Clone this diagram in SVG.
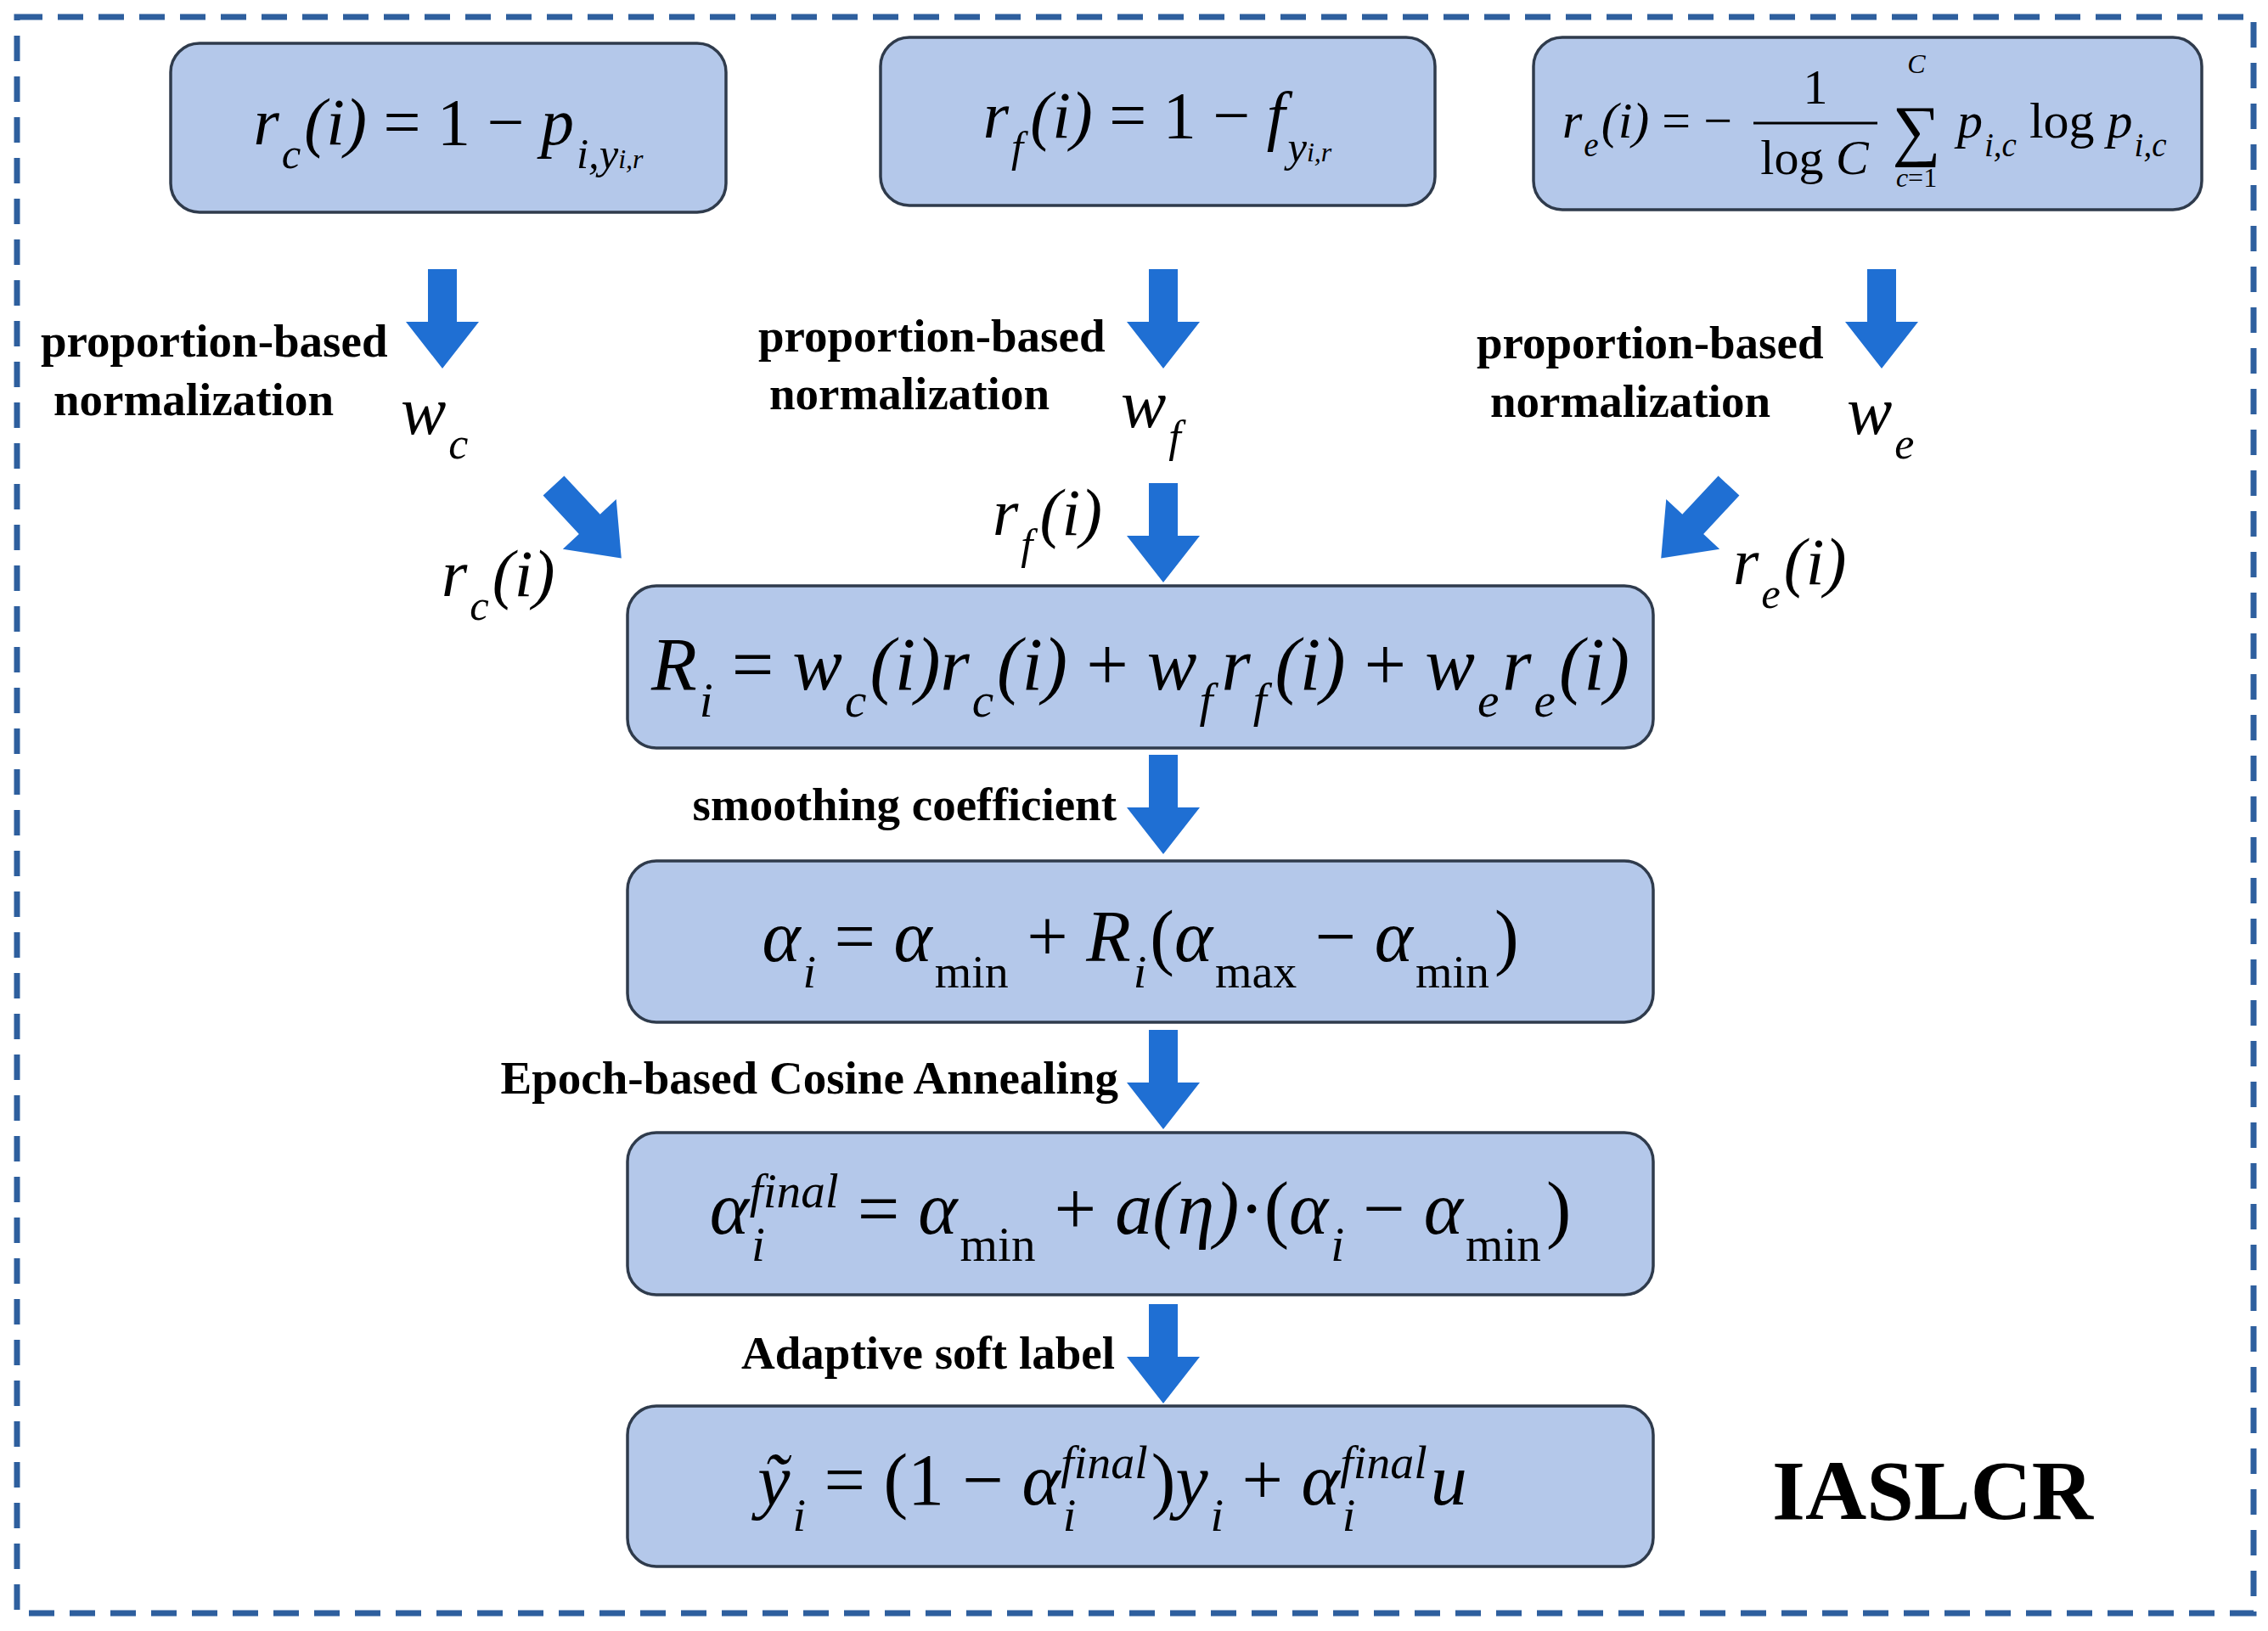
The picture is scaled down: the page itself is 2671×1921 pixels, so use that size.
<svg xmlns="http://www.w3.org/2000/svg" width="2671" height="1921" viewBox="0 0 2671 1921">
<style>
.box{fill:#b4c8ea;stroke:#2f3b4c;stroke-width:3.5}
.arr{fill:#1f6fd3}
.lbl{font-family:"Liberation Serif",serif;font-weight:bold;font-size:55px;fill:#000}
.m{font-family:"Liberation Serif",serif;font-style:italic;fill:#000}
.u{font-style:normal}
.s{font-size:65%}
</style>
<defs>
<polygon id="da" points="-17,0 17,0 17,62 43,62 0,117 -43,62 -17,62"/>
</defs>
<rect x="20" y="20" width="2634" height="1880" fill="none" stroke="#2e5f9e" stroke-width="7" stroke-dasharray="30,18"/>
<g id="n1"><rect class="box" x="201" y="51" width="654" height="199" rx="34"/>
<text class="m" x="528" y="170" font-size="78" text-anchor="middle">r<tspan class="s" dx="3" baseline-shift="sub">c</tspan><tspan dx="4">(i)</tspan><tspan class="u"> = 1 − </tspan>p<tspan class="s" dx="3" baseline-shift="sub">i,y</tspan><tspan font-size="32" baseline-shift="-28">i,r</tspan></text></g>
<g id="n2"><rect class="box" x="1037" y="44" width="653" height="198" rx="34"/>
<text class="m" x="1363" y="162" font-size="78" text-anchor="middle">r<tspan class="s" dx="3" baseline-shift="sub">f</tspan><tspan dx="8">(i)</tspan><tspan class="u"> = 1 − </tspan>f<tspan class="s" dx="3" baseline-shift="sub">y</tspan><tspan font-size="32" baseline-shift="-28">i,r</tspan></text></g>
<g id="n3"><rect class="box" x="1806" y="44" width="787" height="203" rx="34"/>
<text class="m" x="1840" y="162" font-size="60">r<tspan class="s" dx="2" baseline-shift="sub">e</tspan><tspan dx="3">(i)</tspan><tspan class="u"> = −</tspan></text>
<text class="m u" x="2138" y="122" font-size="58" text-anchor="middle" font-style="normal">1</text>
<line x1="2065" y1="145" x2="2211" y2="145" stroke="#000" stroke-width="3"/>
<text class="m" x="2137" y="205" font-size="58" text-anchor="middle"><tspan class="u">log </tspan>C</text>
<text class="m u" x="2257" y="180" font-size="80" text-anchor="middle" font-style="normal">∑</text>
<text class="m" x="2257" y="86" font-size="32" text-anchor="middle">C</text>
<text class="m" x="2257" y="220" font-size="32" text-anchor="middle">c<tspan class="u">=1</tspan></text>
<text class="m" x="2305" y="162" font-size="60">p<tspan class="s" dx="2" baseline-shift="sub">i,c</tspan><tspan class="u"> log </tspan>p<tspan class="s" dx="2" baseline-shift="sub">i,c</tspan></text></g>
<g id="n4"><rect class="box" x="739" y="690" width="1208" height="191" rx="34"/>
<text class="m" x="1343" y="812" font-size="88" text-anchor="middle">R<tspan class="s" dx="3" baseline-shift="sub">i</tspan><tspan class="u"> = </tspan>w<tspan class="s" dx="3" baseline-shift="sub">c</tspan><tspan dx="4">(i)</tspan>r<tspan class="s" dx="3" baseline-shift="sub">c</tspan><tspan dx="4">(i)</tspan><tspan class="u"> + </tspan>w<tspan class="s" dx="3" baseline-shift="sub">f</tspan><tspan dx="10">r</tspan><tspan class="s" dx="3" baseline-shift="sub">f</tspan><tspan dx="10">(i)</tspan><tspan class="u"> + </tspan>w<tspan class="s" dx="3" baseline-shift="sub">e</tspan><tspan dx="4">r</tspan><tspan class="s" dx="3" baseline-shift="sub">e</tspan><tspan dx="4">(i)</tspan></text></g>
<g id="n5"><rect class="box" x="739" y="1014" width="1208" height="190" rx="34"/>
<text class="m" x="1343" y="1132" font-size="86" text-anchor="middle">α<tspan class="s" dx="3" baseline-shift="sub">i</tspan><tspan class="u"> = </tspan>α<tspan class="s u" dx="3" baseline-shift="sub">min</tspan><tspan class="u"> + </tspan>R<tspan class="s" dx="3" baseline-shift="sub">i</tspan><tspan class="u" dx="4">(</tspan>α<tspan class="s u" dx="3" baseline-shift="sub">max</tspan><tspan class="u"> − </tspan>α<tspan class="s u" dx="3" baseline-shift="sub">min</tspan><tspan class="u" dx="6">)</tspan></text></g>
<g id="n6"><rect class="box" x="739" y="1334" width="1208" height="191" rx="34"/>
<text class="m" x="1343" y="1453" font-size="88" text-anchor="middle">α<tspan class="s" dx="3" baseline-shift="sub">i</tspan><tspan class="s" dx="-18" baseline-shift="super">final</tspan><tspan class="u"> = </tspan>α<tspan class="s u" dx="3" baseline-shift="sub">min</tspan><tspan class="u"> + </tspan>a(η)<tspan class="u">·(</tspan>α<tspan class="s" dx="3" baseline-shift="sub">i</tspan><tspan class="u"> − </tspan>α<tspan class="s u" dx="3" baseline-shift="sub">min</tspan><tspan class="u" dx="6">)</tspan></text></g>
<g id="n7"><rect class="box" x="739" y="1656" width="1208" height="189" rx="34"/>
<text class="m" x="1310" y="1772" font-size="86" text-anchor="middle">ỹ<tspan class="s" dx="3" baseline-shift="sub">i</tspan><tspan class="u"> = (1 − </tspan>α<tspan class="s" dx="3" baseline-shift="sub">i</tspan><tspan class="s" dx="-18" baseline-shift="super">final</tspan><tspan class="u" dx="4">)</tspan>y<tspan class="s" dx="3" baseline-shift="sub">i</tspan><tspan class="u"> + </tspan>α<tspan class="s" dx="3" baseline-shift="sub">i</tspan><tspan class="s" dx="-18" baseline-shift="super">final</tspan><tspan dx="4">u</tspan></text></g>
<g id="connectors" class="arr">
<use href="#da" transform="translate(521,317)"/>
<use href="#da" transform="translate(1370,317)"/>
<use href="#da" transform="translate(2216,317)"/>
<use href="#da" transform="translate(1370,569)"/>
<use href="#da" transform="translate(652,572) rotate(-43)"/>
<use href="#da" transform="translate(2036,572) rotate(43)"/>
<use href="#da" transform="translate(1370,889)"/>
<use href="#da" transform="translate(1370,1213)"/>
<use href="#da" transform="translate(1370,1536)"/>
</g>
<g id="labels">
<text class="lbl" x="48" y="420">proportion-based</text>
<text class="lbl" x="63" y="489">normalization</text>
<text class="lbl" x="893" y="414">proportion-based</text>
<text class="lbl" x="906" y="482">normalization</text>
<text class="lbl" x="1739" y="422">proportion-based</text>
<text class="lbl" x="1755" y="491">normalization</text>
<text class="m" x="472" y="511" font-size="80">w<tspan class="s" dx="3" baseline-shift="sub">c</tspan></text>
<text class="m" x="1320" y="503" font-size="80">w<tspan class="s" dx="3" baseline-shift="sub">f</tspan></text>
<text class="m" x="2175" y="511" font-size="80">w<tspan class="s" dx="3" baseline-shift="sub">e</tspan></text>
<text class="m" x="520" y="702" font-size="78">r<tspan class="s" dx="3" baseline-shift="sub">c</tspan><tspan dx="4">(i)</tspan></text>
<text class="m" x="1169" y="630" font-size="78">r<tspan class="s" dx="3" baseline-shift="sub">f</tspan><tspan dx="8">(i)</tspan></text>
<text class="m" x="2041" y="688" font-size="78">r<tspan class="s" dx="3" baseline-shift="sub">e</tspan><tspan dx="4">(i)</tspan></text>
<text class="lbl" x="1315" y="966" text-anchor="end">smoothing coefficient</text>
<text class="lbl" x="1317" y="1288" text-anchor="end">Epoch-based Cosine Annealing</text>
<text class="lbl" x="1313" y="1612" text-anchor="end">Adaptive soft label</text>
<text class="lbl" x="2087" y="1789" style="font-size:100px">IASLCR</text>
</g>
</svg>
